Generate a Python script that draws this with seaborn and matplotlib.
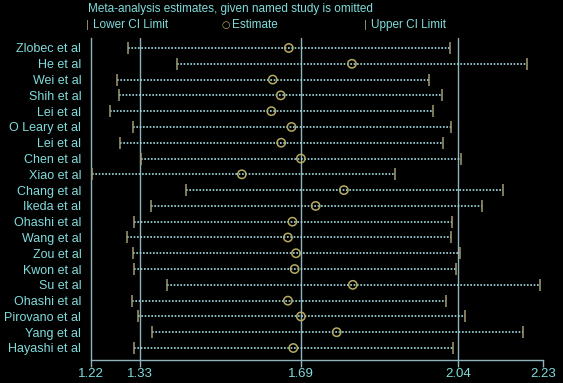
import matplotlib
matplotlib.use('Agg')
import matplotlib.pyplot as plt
import seaborn as sns
import pandas as pd

studies = ['Zlobec et al', 'He et al', 'Wei et al', 'Shih et al', 'Lei et al',
           'O Leary et al', 'Lei et al', 'Chen et al', 'Xiao et al', 'Chang et al',
           'Ikeda et al', 'Ohashi et al', 'Wang et al', 'Zou et al', 'Kwon et al',
           'Su et al', 'Ohashi et al', 'Pirovano et al', 'Yang et al', 'Hayashi et al']
lower = [1.303, 1.412, 1.278, 1.283, 1.262, 1.314, 1.285, 1.332, 1.222, 1.432,
         1.354, 1.315, 1.300, 1.313, 1.316, 1.389, 1.311, 1.326, 1.356, 1.315]
estimate = [1.662, 1.803, 1.626, 1.644, 1.623, 1.668, 1.645, 1.689, 1.557, 1.785,
            1.722, 1.670, 1.660, 1.678, 1.675, 1.805, 1.660, 1.689, 1.769, 1.672]
upper = [2.022, 2.194, 1.975, 2.004, 1.984, 2.024, 2.007, 2.047, 1.899, 2.141,
         2.093, 2.027, 2.024, 2.045, 2.035, 2.223, 2.013, 2.056, 2.186, 2.030]
ref_lines = [1.33, 1.69, 2.04]
xticks = [1.22, 1.33, 1.69, 2.04, 2.23]

df = pd.DataFrame({'study': studies, 'lower': lower, 'est': estimate, 'upper': upper})
df['row'] = range(len(df))

sns.set_theme(style='dark')
plt.rcParams['font.family'] = ['Liberation Sans', 'DejaVu Sans']

txt = '#80dcdc'
dots = '#a2dce2'
circ = '#b6aa62'
cap = '#a39c74'
axc = '#8fb3ba'

fig = plt.figure(figsize=(5.63, 3.83), dpi=100, facecolor='black')
ax = fig.add_axes([91/563, 1-360/383, 452/563, 322/383])
ax.set_facecolor('black')

# reference lines at the overall estimate and its CI
for v in ref_lines:
    ax.axvline(v, color=axc, lw=1, zorder=1)

ax.hlines(df['row'], df['lower'], df['upper'], color=dots, lw=1.2,
          linestyles=(0, (1, 1)), zorder=2)
sns.scatterplot(x='lower', y='row', data=df, marker='|', s=80, color=cap,
                linewidth=1.1, ax=ax, zorder=3)
sns.scatterplot(x='upper', y='row', data=df, marker='|', s=80, color=cap,
                linewidth=1.1, ax=ax, zorder=3)
sns.scatterplot(x='est', y='row', data=df, marker='o', s=36, facecolor='none',
                edgecolor=circ, linewidth=1.1, ax=ax, zorder=4)

ax.set_xlim(1.22, 2.23)
ax.set_ylim(19.76, -0.633)
ax.set_xticks(xticks)
ax.set_xticklabels([f'{t:.2f}' for t in xticks], color=txt, fontsize=9.5)
ax.set_yticks(df['row'])
ax.set_yticklabels(df['study'], color=txt, fontsize=9)
ax.tick_params(axis='x', length=5, color=axc, width=1, pad=1, bottom=True)
ax.tick_params(axis='y', length=0, pad=7)
ax.grid(False)
for s in ['top', 'right']:
    ax.spines[s].set_visible(False)
for s in ['left', 'bottom']:
    ax.spines[s].set_color(axc)
    ax.spines[s].set_linewidth(1)
ax.set_xlabel('')
ax.set_ylabel('')

# header and legend row
fig.text(88/563, 1-9/383, 'Meta-analysis estimates, given named study is omitted',
         color=txt, fontsize=8.5, va='center', ha='left')
fig.text(86/563, 1-25/383, '|', color=cap, fontsize=8, va='center')
fig.text(93/563, 1-25/383, 'Lower CI Limit', color=txt, fontsize=8.5, va='center')
fig.text(221/563, 1-25/383, '○', color=circ, fontsize=7, va='center',
         family=['DejaVu Sans'])
fig.text(232/563, 1-25/383, 'Estimate', color=txt, fontsize=8.5, va='center')
fig.text(364/563, 1-25/383, '|', color=cap, fontsize=8, va='center')
fig.text(371/563, 1-25/383, 'Upper CI Limit', color=txt, fontsize=8.5, va='center')

plt.savefig('out.png', dpi=100, facecolor='black')
